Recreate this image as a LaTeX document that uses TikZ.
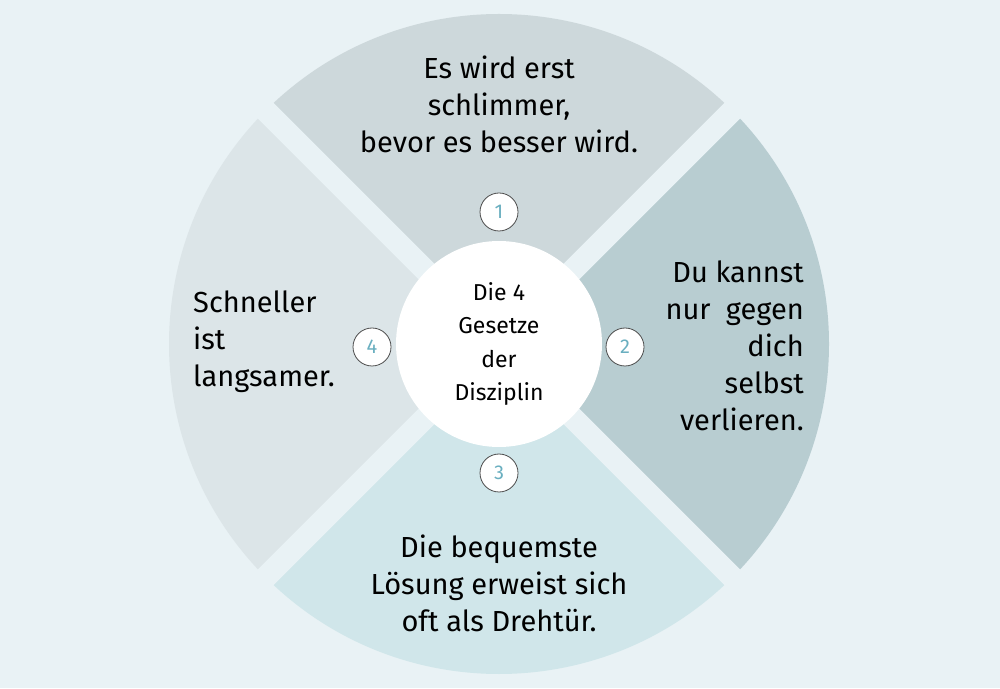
\documentclass[tikz,border=0pt]{standalone}
\usepackage{fontspec}
\setmainfont{Fira Sans}
\usetikzlibrary{calc}
\definecolor{bgcol}{HTML}{E9F2F5}
\definecolor{topcol}{HTML}{CDD8DB}
\definecolor{rightcol}{HTML}{B8CDD1}
\definecolor{botcol}{HTML}{D0E6EA}
\definecolor{leftcol}{HTML}{DCE5E8}
\definecolor{numcol}{HTML}{6AAFC0}
\begin{document}
\begin{tikzpicture} [
                x=1pt, y=1pt,
                sector/.style = {draw=none},
                numdot/.style = {circle,draw=black!70,fill=white,line width=0.8pt,minimum size=38pt,inner sep=0pt,text=numcol,font=\fontsize{20}{20}\selectfont},
                lawtext/.style = {font=\fontsize{29}{37}\selectfont,inner sep=0pt},
            ]
            \fill[bgcol] (0,0) rectangle (1000,688);
            \useasboundingbox (0,0) rectangle (1000,688);
            \coordinate (m) at (499,344);
            % the four quarters
            \foreach \col/\a in {topcol/45, leftcol/135, botcol/225, rightcol/315}
                \fill[\col,sector] (m) -- ++(\a:330) arc[start angle=\a, delta angle=90, radius=330] -- cycle;
            \foreach \a in {45,135}
                \draw[bgcol,line width=22pt] ($(m)+(\a:340)$) -- ($(m)+(\a+180:340)$);
            \node[circle,fill=white,minimum size=206pt,inner sep=0pt] (hub) at (m) {};
            \node[align=center,font=\fontsize{23}{33.5}\selectfont] (title) at (m) {Die 4\\Gesetze\\der\\Disziplin};
            % numbers
            \foreach \pos/\name/\label in {
                    {(499,476)/n1/1},
                    {(625,341)/n2/2},
                    {(499,215)/n3/3},
                    {(372,341)/n4/4}}
                \node[numdot] (\name) at \pos {\label};
            % the laws
            \node[lawtext,align=center,anchor=north] (law1) at (499,632) {Es wird erst\\schlimmer,\\bevor es besser wird.};
            \node[lawtext,align=right,anchor=north east] (law2) at (804,427) {Du kannst\\nur\ \ gegen\\dich\\selbst\\verlieren.};
            \node[lawtext,align=left,anchor=north west] (law4) at (193,397) {Schneller\\ist\\langsamer.};
            \node[lawtext,align=center,anchor=north] (law3) at (499,153) {Die bequemste\\Lösung erweist sich\\oft als Drehtür.};
        \end{tikzpicture}
\end{document}
